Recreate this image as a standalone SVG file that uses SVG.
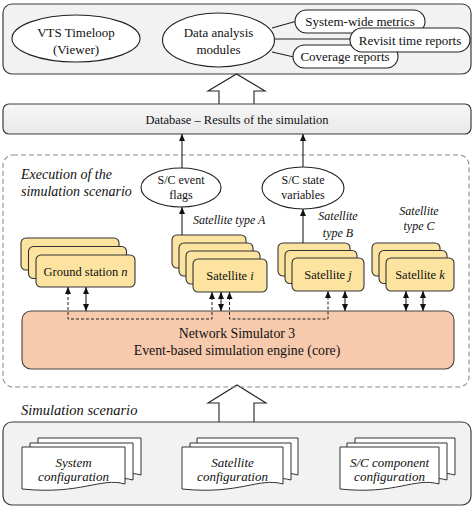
<svg xmlns="http://www.w3.org/2000/svg" width="474" height="507" viewBox="0 0 474 507">
<style>
text{font-family:'Liberation Serif','Times New Roman',serif;fill:#111}
.box{fill:#f2f2f2;stroke:#3c3c3c;stroke-width:1.2}
.ell{fill:#fff;stroke:#222;stroke-width:1.1}
.card{fill:#fce4a0;stroke:#333;stroke-width:1.1}
.doc{fill:#fff;stroke:#333;stroke-width:1}
.ln{stroke:#222;stroke-width:1.1;fill:none}
.dash{stroke:#222;stroke-width:1;fill:none;stroke-dasharray:3,2}
.it{font-style:italic}
.t13{font-size:13px}
.t12{font-size:12px}
</style>
<defs>
<marker id="ah" viewBox="0 0 7 6" refX="7" refY="3" markerWidth="7" markerHeight="6" markerUnits="userSpaceOnUse" orient="auto-start-reverse"><path d="M0,0 L7,3 L0,6 z" fill="#111"/></marker>
<marker id="oh" viewBox="0 0 8 10" refX="8" refY="5" markerWidth="8" markerHeight="10" markerUnits="userSpaceOnUse" orient="auto"><path d="M0,0 L8,5 L0,10" fill="none" stroke="#222" stroke-width="1"/></marker>
<linearGradient id="gg" x1="0" y1="0" x2="0" y2="1"><stop offset="0" stop-color="#f7f7f7"/><stop offset="1" stop-color="#e9e9e9"/></linearGradient>
</defs>
<g font-family="'Liberation Serif', 'Times New Roman', serif">

<g id="output">
<rect class="box" x="3" y="4" width="468" height="70" rx="9"/>
</g>
<g id="connectors-top">
<line class="ln" x1="272" y1="28" x2="297" y2="21"/>
<line class="ln" x1="274" y1="39" x2="351" y2="39"/>
<line class="ln" x1="272" y1="52" x2="294" y2="57"/>
</g>
<g id="vts">
<ellipse class="ell" cx="76" cy="38.5" rx="64" ry="23.5"/>
<text class="t13" x="76" y="37" text-anchor="middle" font-family="'Liberation Serif', serif">VTS Timeloop</text>
<text class="t13" x="76" y="54" text-anchor="middle" font-family="'Liberation Serif', serif">(Viewer)</text>
</g>
<g id="data-analysis">
<ellipse class="ell" cx="218.5" cy="40" rx="56" ry="27"/>
<text class="t13" x="218.5" y="37" text-anchor="middle" font-family="'Liberation Serif', serif">Data analysis</text>
<text class="t13" x="218.5" y="54" text-anchor="middle" font-family="'Liberation Serif', serif">modules</text>
</g>
<g id="system-wide">
<rect class="ell" x="295" y="10" width="130" height="23" rx="11.5"/>
<text class="t13" x="360" y="26" text-anchor="middle" font-family="'Liberation Serif', serif">System-wide metrics</text>
</g>
<g id="coverage">
<rect class="ell" x="293" y="45" width="105" height="23" rx="11.5"/>
<text class="t13" x="345" y="61" text-anchor="middle" font-family="'Liberation Serif', serif">Coverage reports</text>
</g>
<g id="revisit">
<rect class="ell" x="350" y="28" width="120" height="24" rx="12"/>
<text class="t13" x="410" y="44.5" text-anchor="middle" font-family="'Liberation Serif', serif">Revisit time reports</text>
</g>

<g id="big-arrows">
<path d="M219,104 V91 H208 L236.5,74 L265,91 H254 V104" fill="#fff" stroke="#222" stroke-width="1.1"/>
<path d="M219,422 V403 H208 L237,385 L266,403 H254 V422" fill="#fff" stroke="#222" stroke-width="1.1"/>
</g>

<g id="database">
<rect x="3" y="104" width="468" height="30" rx="6" fill="url(#gg)" stroke="#3c3c3c" stroke-width="1.2"/>
<text x="237" y="124" font-size="12.5" text-anchor="middle" font-family="'Liberation Serif', serif">Database – Results of the simulation</text>
</g>

<g id="execution">
<rect x="3" y="155" width="466" height="232" rx="10" fill="none" stroke="#8a8a8a" stroke-width="1.1" stroke-dasharray="5,3"/>
<text class="it" x="21" y="179" font-size="14" font-family="'Liberation Serif', serif">Execution of the</text>
<text class="it" x="21" y="196" font-size="14" font-family="'Liberation Serif', serif">simulation scenario</text>
</g>

<g id="event-flags">
<ellipse class="ell" cx="181" cy="187.5" rx="40" ry="19.5"/>
<text class="t12" x="181" y="184" text-anchor="middle" font-family="'Liberation Serif', serif">S/C event</text>
<text class="t12" x="181" y="199" text-anchor="middle" font-family="'Liberation Serif', serif">flags</text>
</g>
<g id="state-vars">
<ellipse class="ell" cx="303" cy="188" rx="41" ry="21"/>
<text class="t12" x="303" y="184" text-anchor="middle" font-family="'Liberation Serif', serif">S/C state</text>
<text class="t12" x="303" y="199" text-anchor="middle" font-family="'Liberation Serif', serif">variables</text>
</g>

<g id="labels" font-family="'Liberation Serif', serif">
<text class="it t12" x="193" y="224" font-family="'Liberation Serif', serif">Satellite type A</text>
<text class="it t12" x="338" y="220" text-anchor="middle" font-family="'Liberation Serif', serif">Satellite</text>
<text class="it t12" x="338" y="237" text-anchor="middle" font-family="'Liberation Serif', serif">type B</text>
<text class="it t12" x="419" y="215" text-anchor="middle" font-family="'Liberation Serif', serif">Satellite</text>
<text class="it t12" x="419" y="230" text-anchor="middle" font-family="'Liberation Serif', serif">type C</text>
</g>

<g id="ground-station">
<rect class="card" x="21" y="238" width="98" height="32" rx="5"/>
<rect class="card" x="28.5" y="246.5" width="98" height="32" rx="5"/>
<rect class="card" x="36" y="255" width="99" height="32" rx="5"/>
<text x="85.5" y="276" font-size="12.5" text-anchor="middle" font-family="'Liberation Serif', serif">Ground station <tspan font-style="italic">n</tspan></text>
</g>
<g id="satellite-i">
<rect class="card" x="172" y="235" width="74" height="33" rx="5"/>
<rect class="card" x="179" y="243" width="74" height="33" rx="5"/>
<rect class="card" x="186" y="251" width="74" height="33" rx="5"/>
<rect class="card" x="193" y="259" width="74" height="33" rx="5"/>
<text x="230" y="280" font-size="12.5" text-anchor="middle" font-family="'Liberation Serif', serif">Satellite <tspan font-style="italic">i</tspan></text>
</g>
<g id="satellite-j">
<rect class="card" x="278" y="243" width="72" height="33" rx="5"/>
<rect class="card" x="285" y="250.5" width="72" height="33" rx="5"/>
<rect class="card" x="292" y="258" width="72" height="33" rx="5"/>
<text x="328" y="279" font-size="12.5" text-anchor="middle" font-family="'Liberation Serif', serif">Satellite <tspan font-style="italic">j</tspan></text>
</g>
<g id="satellite-k">
<rect class="card" x="372" y="243" width="68" height="33" rx="5"/>
<rect class="card" x="379" y="250.5" width="68" height="33" rx="5"/>
<rect class="card" x="386" y="258" width="68" height="33" rx="5"/>
<text x="420" y="279" font-size="12.5" text-anchor="middle" font-family="'Liberation Serif', serif">Satellite <tspan font-style="italic">k</tspan></text>
</g>

<g id="ns3">
<rect x="22" y="311" width="432" height="58" rx="9" fill="#f7caad" stroke="#444" stroke-width="1.1"/>
<text x="237" y="338" font-size="13.8" text-anchor="middle" font-family="'Liberation Serif', serif">Network Simulator 3</text>
<text x="237" y="355" font-size="13.8" text-anchor="middle" font-family="'Liberation Serif', serif">Event-based simulation engine (core)</text>
</g>

<g id="connectors">
<line class="ln" x1="182" y1="168" x2="182" y2="134" marker-end="url(#ah)"/>
<line class="ln" x1="303" y1="167" x2="303" y2="134" marker-end="url(#ah)"/>
<line class="ln" x1="182" y1="235" x2="182" y2="207" marker-end="url(#ah)"/>
<line class="ln" x1="303" y1="243" x2="303" y2="209" marker-end="url(#ah)"/>
<path class="dash" d="M68,287 V319 H212 V292" marker-start="url(#ah)" marker-end="url(#ah)"/>
<path class="dash" d="M229.5,292 V319 H328 V291" marker-start="url(#ah)" marker-end="url(#ah)"/>
<line class="ln" x1="86" y1="287" x2="86" y2="311" marker-start="url(#ah)" marker-end="url(#ah)"/>
<line class="ln" x1="221" y1="292" x2="221" y2="311" marker-start="url(#ah)" marker-end="url(#ah)"/>
<line class="ln" x1="345" y1="291" x2="345" y2="311" marker-start="url(#ah)" marker-end="url(#ah)"/>
<line class="ln" x1="406" y1="291" x2="406" y2="311" marker-start="url(#ah)" marker-end="url(#ah)"/>
<line class="ln" x1="423" y1="291" x2="423" y2="311" marker-start="url(#ah)" marker-end="url(#ah)"/>
<line class="ln" x1="182" y1="463" x2="142" y2="463" marker-end="url(#oh)"/>
<line class="ln" x1="340" y1="463" x2="298" y2="463" marker-end="url(#oh)"/>
</g>

<g id="scenario">
<text class="it" x="21" y="415" font-size="14.5" font-family="'Liberation Serif', serif">Simulation scenario</text>
<rect class="box" x="3" y="422" width="468" height="83" rx="9"/>
</g>

<g id="system-config">
<path class="doc" d="M38,438 H141 V475 C116,468 98,486 38,480 Z"/>
<path class="doc" d="M30,443 H133 V480 C108,473 90,491 30,485 Z"/>
<path class="doc" d="M22,447 H125 V484 C100,477 82,495 22,489 Z"/>
<text class="it t13" x="73.5" y="467" text-anchor="middle" font-family="'Liberation Serif', serif">System</text>
<text class="it t13" x="73.5" y="481" text-anchor="middle" font-family="'Liberation Serif', serif">configuration</text>
</g>
<g id="satellite-config">
<path class="doc" d="M197,438 H298 V475 C273,468 255,486 197,480 Z"/>
<path class="doc" d="M190,443 H291 V480 C266,473 248,491 190,485 Z"/>
<path class="doc" d="M182,447 H283 V484 C258,477 240,495 182,489 Z"/>
<text class="it t13" x="232.5" y="467" text-anchor="middle" font-family="'Liberation Serif', serif">Satellite</text>
<text class="it t13" x="232.5" y="481" text-anchor="middle" font-family="'Liberation Serif', serif">configuration</text>
</g>
<g id="component-config">
<path class="doc" d="M355,438 H455 V475 C430,468 412,486 355,480 Z"/>
<path class="doc" d="M347,443 H447 V480 C422,473 404,491 347,485 Z"/>
<path class="doc" d="M340,447 H439 V484 C414,477 396,495 340,489 Z"/>
<text class="it t13" x="389.5" y="467" text-anchor="middle" font-family="'Liberation Serif', serif">S/C component</text>
<text class="it t13" x="389.5" y="481" text-anchor="middle" font-family="'Liberation Serif', serif">configuration</text>
</g>
</g>
</svg>
